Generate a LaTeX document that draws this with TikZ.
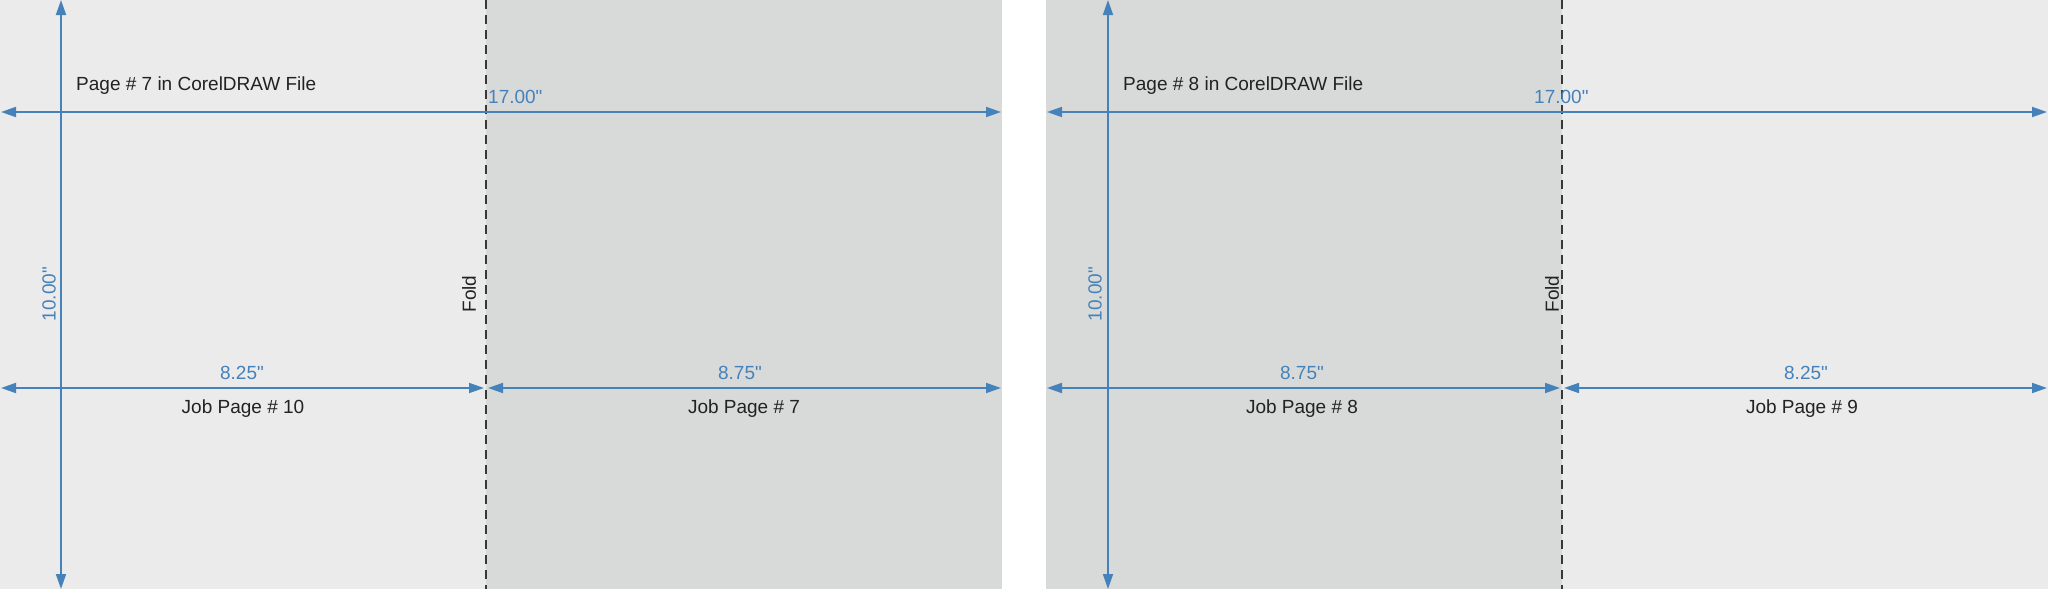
\documentclass[tikz,border=0pt]{standalone}
\usepackage{fontspec}
\setmainfont{Liberation Sans}[Ligatures=TeXOff]
\usetikzlibrary{arrows.meta}
\definecolor{pagelight}{HTML}{EBEBEB}
\definecolor{pagedark}{HTML}{D8DAD9}
\definecolor{dimblue}{HTML}{4682BA}
\definecolor{inktext}{HTML}{222222}
\begin{document}
\begin{tikzpicture}[x=1pt,y=-1pt,
  dimline/.style={draw=dimblue,line width=1.8pt,{Triangle[length=15pt,width=10pt]}-{Triangle[length=15pt,width=10pt]}},
  foldline/.style={draw=inktext!90,line width=2pt,dash pattern=on 9pt off 6pt},
  dimlabel/.style={text=dimblue,font=\fontsize{19}{22}\selectfont,inner sep=0pt},
  plainlabel/.style={text=inktext,font=\fontsize{19}{22}\selectfont,inner sep=0pt},
  ]
\useasboundingbox (0,0) rectangle (2048,589);
\fill[white] (0,0) rectangle (2048,589);
% left sheet
\fill[pagelight] (0,0) rectangle (486,589);
\fill[pagedark] (486,0) rectangle (1002,589);
% right sheet
\fill[pagedark] (1046,0) rectangle (1562,589);
\fill[pagelight] (1562,0) rectangle (2048,589);

% ---------- left sheet ----------
\coordinate (LTop) at (61,0);
\coordinate (LBot) at (61,589);
\coordinate (LFoldTop) at (486,0);
\coordinate (LFoldBot) at (486,589);
\coordinate (LWideA) at (1,112);
\coordinate (LWideB) at (1001,112);
\coordinate (LHalfA) at (1,388);
\coordinate (LHalfB) at (484,388);
\coordinate (LHalfC) at (488,388);
\coordinate (LHalfD) at (1001,388);
\draw[foldline] (LFoldTop) -- (LFoldBot);
\draw[dimline] (LTop) -- (LBot);
\draw[dimline] (LWideA) -- (LWideB);
\draw[dimline] (LHalfA) -- (LHalfB);
\draw[dimline] (LHalfC) -- (LHalfD);
\node[plainlabel,anchor=west] (ltitle) at (76,86) {Page \# 7 in CorelDRAW File};
\node[dimlabel,anchor=west] (lwide) at (488,97) {17.00"};
\node[dimlabel,rotate=90] (lheight) at (49,294) {10.00"};
\node[plainlabel,rotate=90] (lfold) at (469,294) {Fold};
\node[dimlabel] (lleftw) at (242,373) {8.25"};
\node[plainlabel] (lleftp) at (243,409) {Job Page \# 10};
\node[dimlabel] (lrightw) at (740,373) {8.75"};
\node[plainlabel] (lrightp) at (744,409) {Job Page \# 7};

% ---------- right sheet ----------
\coordinate (RTop) at (1108,0);
\coordinate (RBot) at (1108,589);
\coordinate (RFoldTop) at (1562,0);
\coordinate (RFoldBot) at (1562,589);
\coordinate (RWideA) at (1047,112);
\coordinate (RWideB) at (2047,112);
\coordinate (RHalfA) at (1047,388);
\coordinate (RHalfB) at (1560,388);
\coordinate (RHalfC) at (1564,388);
\coordinate (RHalfD) at (2047,388);
\draw[foldline] (RFoldTop) -- (RFoldBot);
\draw[dimline] (RTop) -- (RBot);
\draw[dimline] (RWideA) -- (RWideB);
\draw[dimline] (RHalfA) -- (RHalfB);
\draw[dimline] (RHalfC) -- (RHalfD);
\node[plainlabel,anchor=west] (rtitle) at (1123,86) {Page \# 8 in CorelDRAW File};
\node[dimlabel,anchor=west] (rwide) at (1534,97) {17.00"};
\node[dimlabel,rotate=90] (rheight) at (1095,294) {10.00"};
\node[plainlabel,rotate=90] (rfold) at (1552,294) {Fold};
\node[dimlabel] (rleftw) at (1302,373) {8.75"};
\node[plainlabel] (rleftp) at (1302,409) {Job Page \# 8};
\node[dimlabel] (rrightw) at (1806,373) {8.25"};
\node[plainlabel] (rrightp) at (1802,409) {Job Page \# 9};
\end{tikzpicture}
\end{document}
